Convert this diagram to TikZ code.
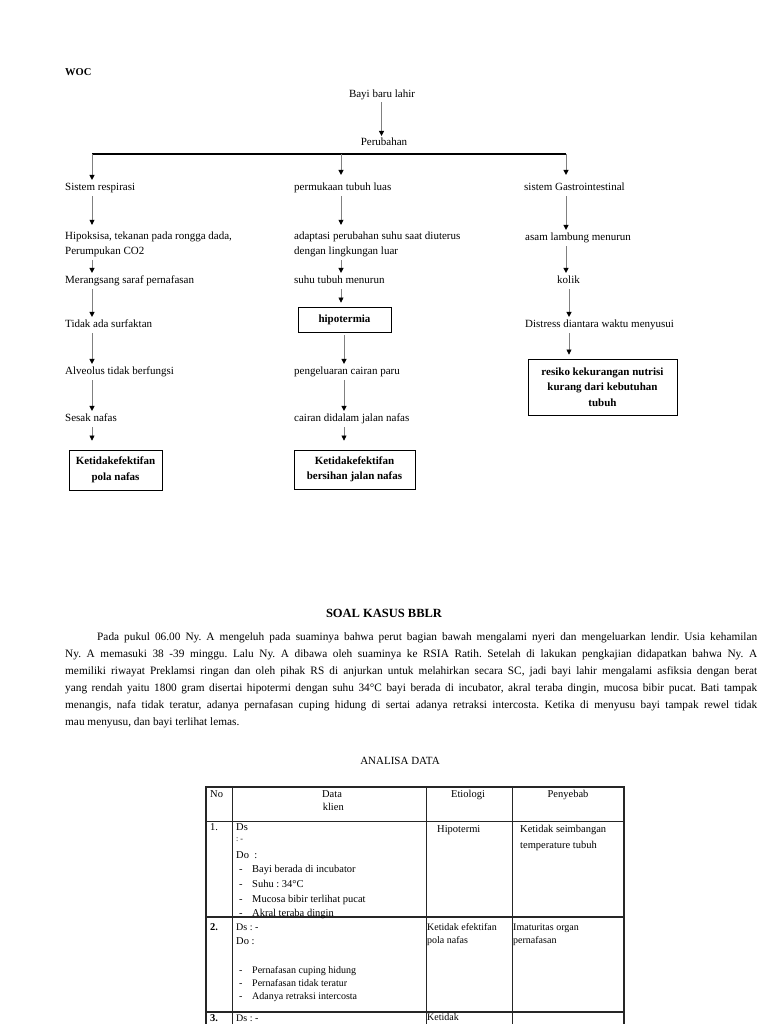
\documentclass[tikz,border=0pt]{standalone}
\usepackage{fontspec}
\setmainfont{Liberation Serif}
\usetikzlibrary{arrows.meta,calc}
\frenchspacing
\begin{document}
\begin{tikzpicture}[x=1pt,y=-1pt,
  lbl/.style={anchor=west,inner xsep=0pt,inner ysep=3pt,font=\fontsize{11}{14}\selectfont,text height=7.5pt,text depth=2.2pt},
  lbl2/.style={anchor=west,inner xsep=0pt,inner ysep=3pt,font=\fontsize{11}{15}\selectfont,align=left},
  ctr/.style={inner sep=2pt,font=\fontsize{11}{14}\selectfont,text height=7.5pt,text depth=2.2pt},
  boxed/.style={draw=black,line width=0.9pt,inner sep=3pt,align=center,font=\fontsize{11}{15.5}\selectfont\bfseries},
  arr/.style={draw=black!50,line width=0.5pt,-{Triangle[width=5pt,length=5pt,color=black,fill=black]}},
  hbar/.style={draw=black,line width=1.3pt},
  tb/.style={anchor=west,inner sep=0pt,font=\fontsize{10.5}{13}\selectfont,text height=7.3pt,text depth=2.1pt},
  tbs/.style={anchor=west,inner sep=0pt,font=\fontsize{10}{12}\selectfont,text height=7pt,text depth=2pt},
  tline/.style={draw=black!85,line width=1pt},
  touter/.style={draw=black!85,line width=1.4pt},
  paraline/.style={anchor=west,inner sep=0pt,font=\fontsize{11.3}{14}\selectfont,text height=7.7pt,text depth=2.3pt}
]
\useasboundingbox[fill=white] (0,0) rectangle (768,1024);

% column x coordinates for connectors
\coordinate (cB) at (381.5,0);
\coordinate (cL) at (92,0);
\coordinate (cM1) at (341,0);
\coordinate (cM) at (344,0);
\coordinate (cR1) at (566,0);
\coordinate (cR) at (569,0);
\coordinate (hl) at (92,154);
\coordinate (hm) at (341,154);
\coordinate (hr) at (566,154);

% ---------- WOC ----------
\node[anchor=west,inner sep=0pt,font=\fontsize{10.5}{12}\selectfont\bfseries] (woc) at (65,72) {WOC};
\node[ctr] (bayi) at (382,95) {Bayi baru lahir};
\node[ctr] (perub) at (384,143) {Perubahan};
\draw[hbar] (hl) -- (hr);

\node[lbl] (resp) at (65,188) {Sistem respirasi};
\node[lbl] (perm) at (294,188) {permukaan tubuh luas};
\node[lbl] (gastro) at (524,188) {sistem Gastrointestinal};

\node[lbl2] (hipok) at (65,244.5) {Hipoksisa, tekanan pada rongga dada,\\Perumpukan CO2};
\node[lbl2] (adapt) at (294,244.5) {adaptasi perubahan suhu saat diuterus\\dengan lingkungan luar};
\node[lbl] (asam) at (525,238) {asam lambung menurun};

\node[lbl] (meran) at (65,281) {Merangsang saraf pernafasan};
\node[lbl] (suhu) at (294,281) {suhu tubuh menurun};
\node[lbl] (kolik) at (557,281) {kolik};

\node[lbl] (tidak) at (65,325) {Tidak ada surfaktan};
\node[boxed,minimum width=93pt,minimum height=25pt] (hipot) at (344.5,319.5) {hipotermia};
\node[lbl] (distress) at (525,325) {Distress diantara waktu menyusui};

\node[lbl] (alveo) at (65,372) {Alveolus tidak berfungsi};
\node[lbl] (penge) at (294,372) {pengeluaran cairan paru};
\node[boxed,minimum width=149pt,minimum height=56pt] (resiko) at (602.5,387) {resiko kekurangan nutrisi\\kurang dari kebutuhan\\tubuh};

\node[lbl] (sesak) at (65,419) {Sesak nafas};
\node[lbl] (cairan) at (294,419) {cairan didalam jalan nafas};

\node[boxed,minimum width=93pt,minimum height=40pt] (bpola) at (115.5,470) {Ketidakefektifan\\pola nafas};
\node[boxed,minimum width=121pt,minimum height=39pt] (bjalan) at (354.5,469.5) {Ketidakefektifan\\bersihan jalan nafas};

% connectors
\draw[arr] (bayi.south -| cB) -- (perub.north -| cB);
\draw[arr] (hl) -- (resp.north -| cL);
\draw[arr,shorten >=5pt] (hm) -- (perm.north -| cM1);
\draw[arr,shorten >=5pt] (hr) -- (gastro.north -| cR1);

\draw[arr,shorten >=4pt] (resp.south -| cL) -- (hipok.north -| cL);
\draw[arr] (hipok.south -| cL) -- (meran.north -| cL);
\draw[arr] (meran.south -| cL) -- (tidak.north -| cL);
\draw[arr] (tidak.south -| cL) -- (alveo.north -| cL);
\draw[arr] (alveo.south -| cL) -- (sesak.north -| cL);
\draw[arr,shorten >=9pt] (sesak.south -| cL) -- (bpola.north -| cL);

\draw[arr,shorten >=4pt] (perm.south -| cM1) -- (adapt.north -| cM1);
\draw[arr] (adapt.south -| cM1) -- (suhu.north -| cM1);
\draw[arr,shorten >=4pt] (suhu.south -| cM1) -- (hipot.north -| cM1);
\draw[arr,shorten <=3pt] (hipot.south -| cM) -- (penge.north -| cM);
\draw[arr] (penge.south -| cM) -- (cairan.north -| cM);
\draw[arr,shorten >=9pt] (cairan.south -| cM) -- (bjalan.north -| cM);

\draw[arr] (gastro.south -| cR1) -- (asam.north -| cR1);
\draw[arr] (asam.south -| cR1) -- (kolik.north -| cR1);
\draw[arr] (kolik.south -| cR) -- (distress.north -| cR);
\draw[arr,shorten >=4pt] (distress.south -| cR) -- (resiko.north -| cR);

% ---------- SOAL KASUS ----------
\node[inner sep=0pt,font=\fontsize{12.5}{14}\selectfont\bfseries] (soal) at (384,613) {SOAL KASUS BBLR};
\node[paraline] (p1) at (97,638) {\makebox[660pt][s]{Pada pukul 06.00 Ny. A mengeluh pada suaminya bahwa perut bagian bawah mengalami nyeri dan mengeluarkan lendir. Usia kehamilan}};
\node[paraline] (p2) at (65,655) {\makebox[692pt][s]{Ny. A memasuki 38 -39 minggu. Lalu Ny. A dibawa oleh suaminya ke RSIA Ratih. Setelah di lakukan pengkajian didapatkan bahwa Ny. A}};
\node[paraline] (p3) at (65,672) {\makebox[692pt][s]{memiliki riwayat Preklamsi ringan dan oleh pihak RS di anjurkan untuk melahirkan secara SC, jadi bayi lahir mengalami asfiksia dengan berat}};
\node[paraline] (p4) at (65,689) {\makebox[692pt][s]{yang rendah yaitu 1800 gram disertai hipotermi dengan suhu 34°C bayi berada di incubator, akral teraba dingin, mucosa bibir pucat. Bati tampak}};
\node[paraline] (p5) at (65,706) {\makebox[692pt][s]{menangis, nafa tidak teratur, adanya pernafasan cuping hidung di sertai adanya retraksi intercosta. Ketika di menyusu bayi tampak rewel tidak}};
\node[paraline] (p6) at (65,723) {mau menyusu, dan bayi terlihat lemas.};

% ---------- ANALISA DATA ----------
\node[inner sep=0pt,font=\fontsize{11}{13}\selectfont] (analisa) at (400,761) {ANALISA DATA};

% table grid
\draw[tline] (232,787) -- (232,1030);
\draw[tline] (426,787) -- (426,1030);
\draw[tline] (512,787) -- (512,1030);
\draw[tline] (206,821) -- (624,821);
\draw[touter] (206,917) -- (624,917);
\draw[touter] (206,1012) -- (624,1012);
\draw[touter] (206,1030) -- (206,787) -- (624,787) -- (624,1030);

% header
\node[tb] (hno) at (210,795) {No};
\node[inner sep=0pt,align=center,font=\fontsize{10.5}{13}\selectfont] (hdata) at (332,801) {Data\\\ klien};
\node[inner sep=0pt,font=\fontsize{10.5}{13}\selectfont] (hetio) at (468,795) {Etiologi};
\node[inner sep=0pt,font=\fontsize{10.5}{13}\selectfont] (hpeny) at (568,795) {Penyebab};

% row 1
\node[tb] (r1no) at (210,828) {1.};
\node[tb] (r1ds) at (236,828) {Ds};
\node[anchor=west,inner sep=0pt,font=\fontsize{8}{9}\selectfont] (r1dsv) at (236,840) {: -};
\node[tb] (r1do) at (236,856) {Do\ \ :};
\node[tb] (r1b1d) at (239,870) {-};
\node[tb] (r1b1) at (252,870) {Bayi berada di incubator};
\node[tb] (r1b2d) at (239,885) {-};
\node[tb] (r1b2) at (252,885) {Suhu : 34°C};
\node[tb] (r1b3d) at (239,900) {-};
\node[tb] (r1b3) at (252,900) {Mucosa bibir terlihat pucat};
\node[tb] (r1b4d) at (239,914) {-};
\node[tb] (r1b4) at (252,914) {Akral teraba dingin};
\node[tb] (r1et) at (437,830) {Hipotermi};
\node[tb] (r1py1) at (520,830) {Ketidak seimbangan};
\node[tb] (r1py2) at (520,846) {temperature tubuh};

% row 2
\node[tb,font=\fontsize{10.5}{13}\selectfont\bfseries] (r2no) at (210,928) {2.};
\node[tbs] (r2ds) at (236,928) {Ds : -};
\node[tb] (r2do) at (236,942) {Do :};
\node[tbs] (r2b1d) at (239,971) {-};
\node[tbs] (r2b1) at (252,971) {Pernafasan cuping hidung};
\node[tbs] (r2b2d) at (239,984) {-};
\node[tbs] (r2b2) at (252,984) {Pernafasan tidak teratur};
\node[tbs] (r2b3d) at (239,997) {-};
\node[tbs] (r2b3) at (252,997) {Adanya retraksi intercosta};
\node[tbs] (r2et1) at (427,928) {Ketidak efektifan};
\node[tbs] (r2et2) at (427,941) {pola nafas};
\node[tbs] (r2py1) at (513,928) {Imaturitas organ};
\node[tbs] (r2py2) at (513,941) {pernafasan};

% row 3
\node[tb,font=\fontsize{10.5}{13}\selectfont\bfseries] (r3no) at (210,1018.5) {3.};
\node[tbs] (r3ds) at (236,1018.5) {Ds : -};
\node[tbs] (r3et) at (427,1017.5) {Ketidak};
\end{tikzpicture}
\end{document}
